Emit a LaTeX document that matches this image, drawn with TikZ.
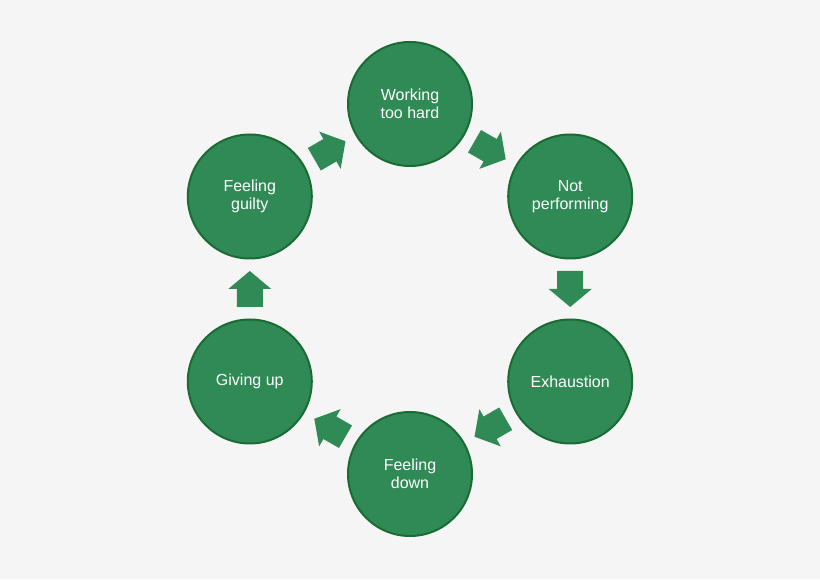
\documentclass[tikz,border=0pt]{standalone}
\usepackage{fontspec}
\setmainfont{Liberation Sans}
\usetikzlibrary{calc}
\definecolor{bg}{HTML}{F5F5F5}
\definecolor{cfill}{HTML}{2F8A55}
\definecolor{cline}{HTML}{1B6B35}
\tikzset{
  stage/.style={circle, draw=cline, line width=2pt, fill=cfill, minimum size=124pt,
    inner sep=0pt, text=white, align=center, font=\fontsize{16}{18.5}\selectfont},
  blockarrow/.style={fill=cfill, draw=none}
}
\newcommand{\blkarrow}[3]{%
  \path[blockarrow, shift={($(#1)!0.5!(#2)$)}, rotate=#3]
    (-18,-13) -- (0,-13) -- (0,-21.5) -- (18,0) -- (0,21.5) -- (0,13) -- (-18,13) -- cycle;}
\begin{document}
\begin{tikzpicture}[x=1pt,y=1pt]
\fill[bg] (0,0) rectangle (820,579);
\useasboundingbox (0,0) rectangle (820,579);
\coordinate (c) at (410,290);
\node[stage] (wt) at ($(c)+(90:185)$) {Working\\too hard};
\node[stage] (np) at ($(c)+(30:185)$) {Not\\performing};
\node[stage] (ex) at ($(c)+(-30:185)$) {Exhaustion};
\node[stage] (fd) at ($(c)+(-90:185)$) {Feeling\\down};
\node[stage] (gu) at ($(c)+(-150:185)$) {Giving up};
\node[stage] (fg) at ($(c)+(150:185)$) {Feeling\\guilty};
\blkarrow{wt}{np}{-30}
\blkarrow{np}{ex}{-90}
\blkarrow{ex}{fd}{-150}
\blkarrow{fd}{gu}{150}
\blkarrow{gu}{fg}{90}
\blkarrow{fg}{wt}{30}
\end{tikzpicture}
\end{document}
